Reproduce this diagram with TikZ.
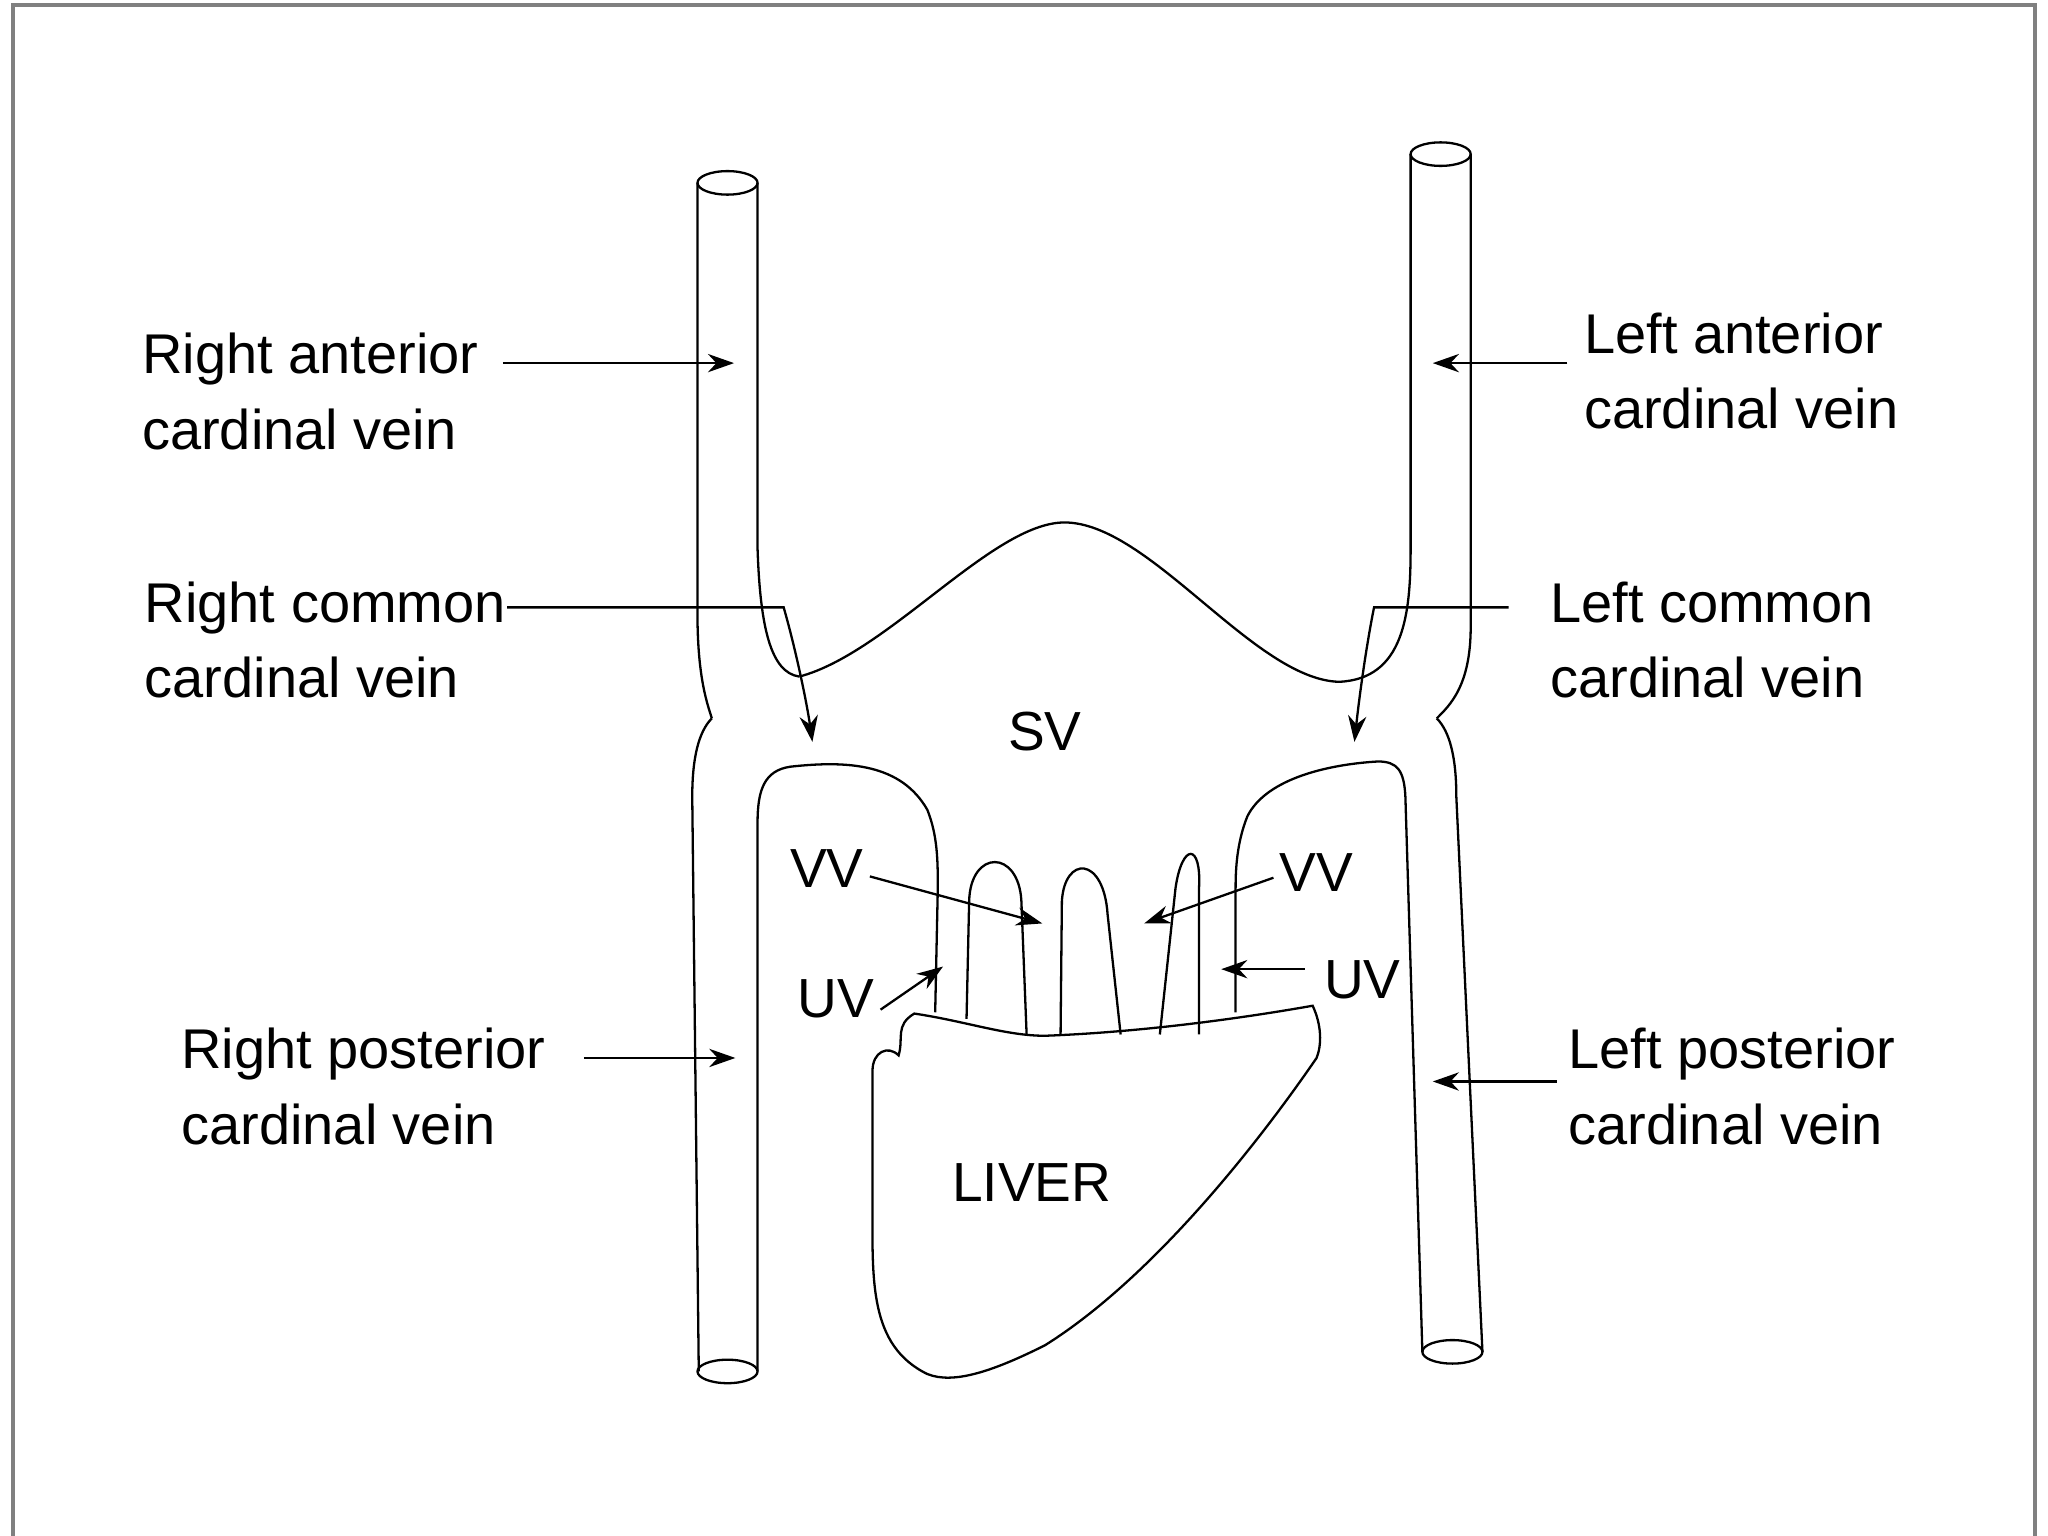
\documentclass[tikz,border=0pt]{standalone}
\usepackage{fontspec}
\setmainfont{Liberation Sans}
\usetikzlibrary{arrows.meta}
\begin{document}
\begin{tikzpicture}[x=0.1mm,y=-0.1mm,line width=0.5pt,
  lbl/.style={align=left,inner sep=0pt,font=\fontsize{12.2}{16.5}\selectfont},
  sm/.style={inner sep=0pt,font=\fontsize{12}{13}\selectfont},
  arr/.style={-{Stealth[length=2mm,width=1.4mm]},line width=0.5pt}]
\useasboundingbox (0,0) rectangle (1568,1176);
\draw[gray,line width=0.8pt] (10,4) rectangle (1558,1200);
% left anterior tube top
\draw (557,140) ellipse [x radius=23,y radius=9];
\draw (534,140) -- (534,470) .. controls (534,520) and (542,540) .. (545,550);
\draw (580,140) -- (580,420) .. controls (582,480) and (590,515) .. (612,518);
% SV top
\draw (612,518) .. controls (680,500) and (760,400) .. (815,400)
  .. controls (880,400) and (960,520) .. (1025,522)
  .. controls (1075,520) and (1080,470) .. (1080,420) -- (1080,118);
\draw (1103,118) ellipse [x radius=23,y radius=9];
\draw (1126,118) -- (1126,480) .. controls (1126,525) and (1110,540) .. (1100,550);
% left posterior tube
\draw (545,550) .. controls (535,560) and (530,580) .. (530,610) -- (535,1050);
\draw (557,1050) ellipse [x radius=23,y radius=9];
\draw (580,1050) -- (580,630) .. controls (580,605) and (585,590) .. (605,587)
  .. controls (650,582) and (690,585) .. (710,620) .. controls (718,640) and (718,660) .. (718,680) -- (716,775);
% right posterior tube
\draw (1100,550) .. controls (1110,560) and (1115,580) .. (1115,610) -- (1135,1035);
\draw (1112,1035) ellipse [x radius=23,y radius=9];
\draw (1089,1035) -- (1076,610) .. controls (1075,590) and (1070,583) .. (1055,583)
  .. controls (1020,585) and (970,595) .. (955,625) .. controls (947,645) and (946,665) .. (946,680) -- (946,775);
% fingers
\draw (740,780) -- (742,690) .. controls (743,650) and (780,650) .. (782,690) -- (786,792);
\draw (812,792) -- (813,690) .. controls (815,655) and (845,655) .. (848,700) -- (858,792);
\draw (888,792) -- (900,680) .. controls (905,645) and (920,645) .. (918,680) -- (918,792);
% liver
\draw (700,776) .. controls (740,782) and (770,793) .. (800,793)
  .. controls (880,790) and (960,778) .. (1005,770)
  .. controls (1012,785) and (1012,800) .. (1008,810)
  .. controls (960,880) and (880,980) .. (800,1030)
  .. controls (760,1050) and (730,1060) .. (710,1052)
  .. controls (665,1030) and (668,980) .. (668,920) -- (668,820)
  .. controls (668,805) and (680,800) .. (688,808)
  .. controls (692,795) and (685,785) .. (700,776) -- cycle;
% labels
\node[lbl,anchor=west] (ra) at (108,300) {Right anterior\\cardinal vein};
\node[lbl,anchor=west] (la) at (1212,284) {Left anterior\\cardinal vein};
\node[lbl,anchor=west] (rc) at (110,490) {Right common\\cardinal vein};
\node[lbl,anchor=west] (lc) at (1186,490) {Left common\\cardinal vein};
\node[lbl,anchor=west] (rp) at (138,832) {Right posterior\\cardinal vein};
\node[lbl,anchor=west] (lp) at (1200,832) {Left posterior\\cardinal vein};
\node[sm] (sv) at (800,560) {SV};
\node[sm] (liver) at (790,905) {LIVER};
\node[sm] (vvl) at (633,665) {VV};
\node[sm] (vvr) at (1008,668) {VV};
\node[sm] (uvl) at (640,765) {UV};
\node[sm] (uvr) at (1043,750) {UV};
% arrows
\coordinate (a1) at (562,278);
\draw[arr] (385,278) -- (a1);
\coordinate (a2) at (1097,278);
\draw[arr] (1200,278) -- (a2);
\coordinate (a3) at (622,568);
\draw[arr] (rc.east |- 0,465) -- (600,465) .. controls (610,500) and (618,540) .. (a3);
\coordinate (a4) at (1037,568);
\draw[arr] (1155,465) -- (1052,465) .. controls (1045,500) and (1040,540) .. (a4);
\coordinate (a5) at (563,810);
\draw[arr] (447,810) -- (a5);
\coordinate (a6) at (1097,828);
\draw[arr] (1192,828) -- (a6);
\coordinate (a7) at (798,707);
\draw[arr] (vvl.east) ++(4,6) -- (a7);
\coordinate (a8) at (876,707);
\draw[arr] (vvr.west) ++(-4,4) -- (a8);
\coordinate (a9) at (722,740);
\draw[arr] (uvl.east) ++(4,8) -- (a9);
\coordinate (a10) at (935,742);
\draw[arr] (uvr.west) ++(-14,-8) -- (a10);
\end{tikzpicture}
\end{document}
